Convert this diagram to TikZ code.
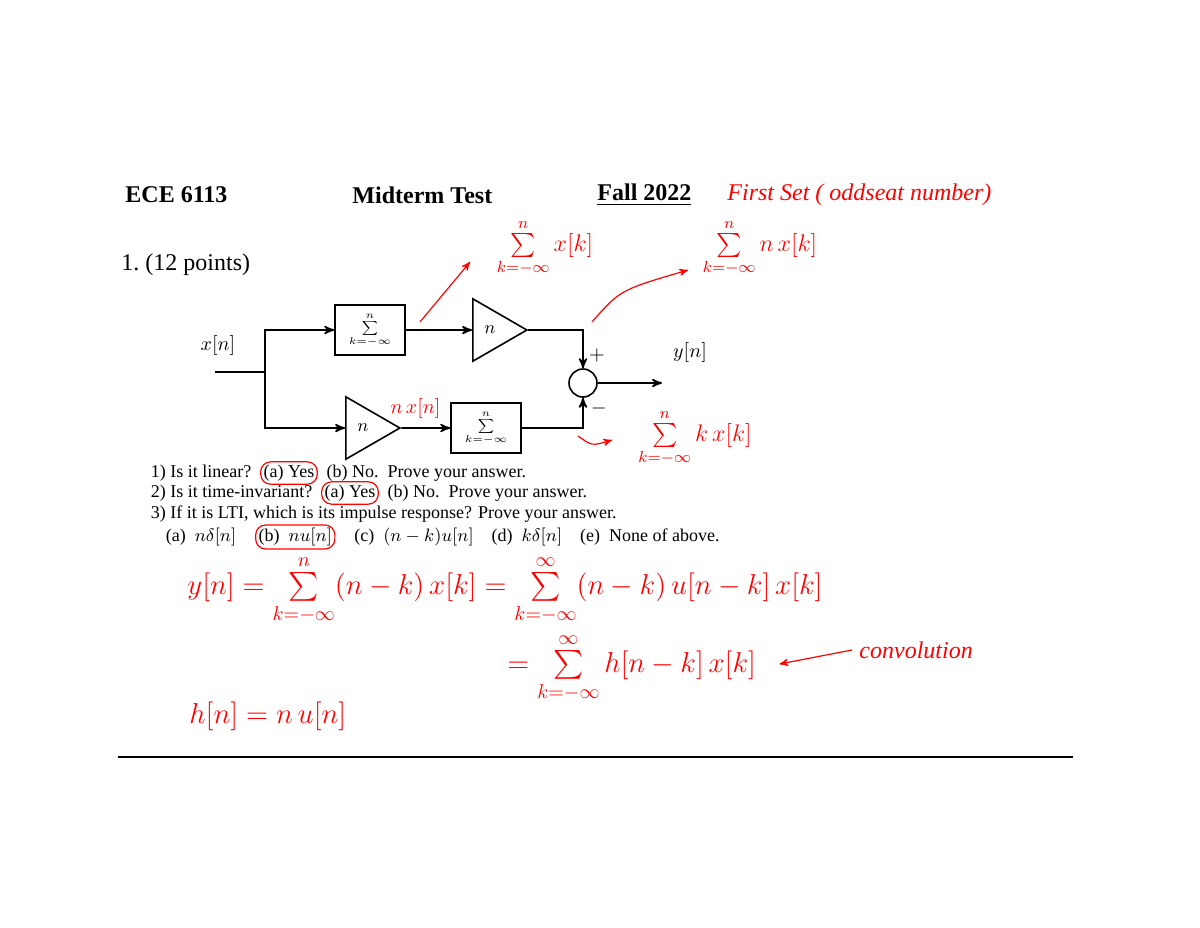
\documentclass[tikz,border=0pt]{standalone}
\usepackage{amsmath}
\usepackage{fontspec}
\setmainfont{Liberation Serif}
\usetikzlibrary{arrows,shapes.geometric,positioning}
\begin{document}
\begin{tikzpicture}[x=0.5pt,y=-0.5pt,>=stealth',thick,
        sum box/.style={draw,minimum width=35pt,minimum height=25pt,inner sep=1pt,font=\tiny},
        amp/.style={draw,isosceles triangle,isosceles triangle apex angle=60,minimum height=27pt,inner sep=1pt,font=\small\itshape},
        note/.style={red,font=\large},
        qtext/.style={inner sep=1pt,font=\small},
        ring/.style={draw=red,semithick,rounded corners=5pt,inner sep=1.5pt,font=\small}]
        \useasboundingbox (0,0) rectangle (1200,927);
        % header
        \node[anchor=west,font=\large\bfseries] (ece) at (118,195) {ECE 6113};
        \node[anchor=west,font=\large\bfseries] (mid) at (345,195) {Midterm Test};
        \node[anchor=west,font=\large\bfseries] (fall) at (590,195) {\underline{Fall 2022}};
        \node[anchor=west,note,font=\large\itshape] (set) at (720,195) {First Set ( oddseat number)};
        \node[anchor=west,font=\large] (q1) at (114,265) {1.\ (12 points)};
        % block diagram
        \node (xin) at (218,345) {$x[n]$};
        \coordinate (in) at (215,372);
        \coordinate (split) at (265,372);
        \node[sum box] (acc1) at (370,330) {$\displaystyle\sum_{k=-\infty}^{n}$};
        \node[amp] (amp1) at (490,330) {$n$};
        \node[amp] (amp2) at (363,428) {$n$};
        \node[sum box] (acc2) at (486,428) {$\displaystyle\sum_{k=-\infty}^{n}$};
        \node[draw,circle,minimum size=14pt,inner sep=0pt] (add) at (583,383) {};
        \coordinate (out) at (662,383);
        \node (yout) at (690,352) {$y[n]$};
        \node (plus) at (597,355) {$+$};
        \node (minus) at (599,408) {$-$};
        \draw (in) -- (split);
        \draw[->] (split) |- (acc1.west);
        \draw[->] (split) |- (amp2.west);
        \draw[->] (acc1.east) -- (amp1.west);
        \draw[->] (amp2.east) -- (acc2.west);
        \draw[->] (amp1.east) -| (add.north);
        \draw[->] (acc2.east) -| (add.south);
        \draw[->] (add.east) -- (out);
        % red notes on the diagram
        \node[note] (n1) at (545,248) {$\sum\limits_{k=-\infty}^{n} x[k]$};
        \node[note] (n2) at (760,248) {$\sum\limits_{k=-\infty}^{n} n\,x[k]$};
        \node[note,font=\normalsize,anchor=east] (nx) at (448,408) {$n\,x[n]$};
        \node[note] (n3) at (695,438) {$\sum\limits_{k=-\infty}^{n} k\,x[k]$};
        \draw[red,semithick,->] (420,322) -- (470,262);
        \draw[red,semithick,->] (592,322) .. controls (620,290) .. (688,270);
        \draw[red,semithick,->] (578,436) .. controls (592,446) .. (612,440);
        % questions
        \node[qtext,anchor=west] (a1) at (148,473) {1)\ Is it linear?};
        \node[ring,right=3pt of a1] (r1) {(a) Yes};
        \node[qtext,right=3pt of r1] (a1b) {(b) No.\ \ Prove your answer.};
        \node[qtext,anchor=west] (a2) at (148,493) {2)\ Is it time-invariant?};
        \node[ring,right=3pt of a2] (r2) {(a) Yes};
        \node[qtext,right=3pt of r2] (a2b) {(b) No.\ \ Prove your answer.};
        \node[qtext,anchor=west] (a3) at (148,514) {3)\ If it is LTI, which is its impulse response? Prove your answer.};
        \node[qtext,anchor=west] (a4) at (163,537) {(a)\ \ $n\delta[n]$};
        \node[ring,right=8pt of a4] (r3) {(b)\ \ $nu[n]$};
        \node[qtext,right=8pt of r3] (a4b) {(c)\ \ $(n-k)u[n]$\quad (d)\ \ $k\delta[n]$\quad (e)\ \ None of above.};
        % red working
        \node[note,anchor=west,font=\Large] (e1) at (180,590) {$y[n]=\sum\limits_{k=-\infty}^{n}(n-k)\,x[k]=\sum\limits_{k=-\infty}^{\infty}(n-k)\,u[n-k]\,x[k]$};
        \node[note,anchor=west,font=\Large] (e2) at (500,668) {$=\sum\limits_{k=-\infty}^{\infty}h[n-k]\,x[k]$};
        \node[note,anchor=west,font=\large\itshape] (conv) at (852,650) {convolution};
        \draw[red,semithick,->] (conv.west) -- ([xshift=8pt,yshift=2pt]e2.east);
        \node[note,anchor=west,font=\Large] (h) at (182,716) {$h[n]=n\,u[n]$};
        \draw[semithick] (118,757) -- (1073,757);
\end{tikzpicture}
\end{document}
